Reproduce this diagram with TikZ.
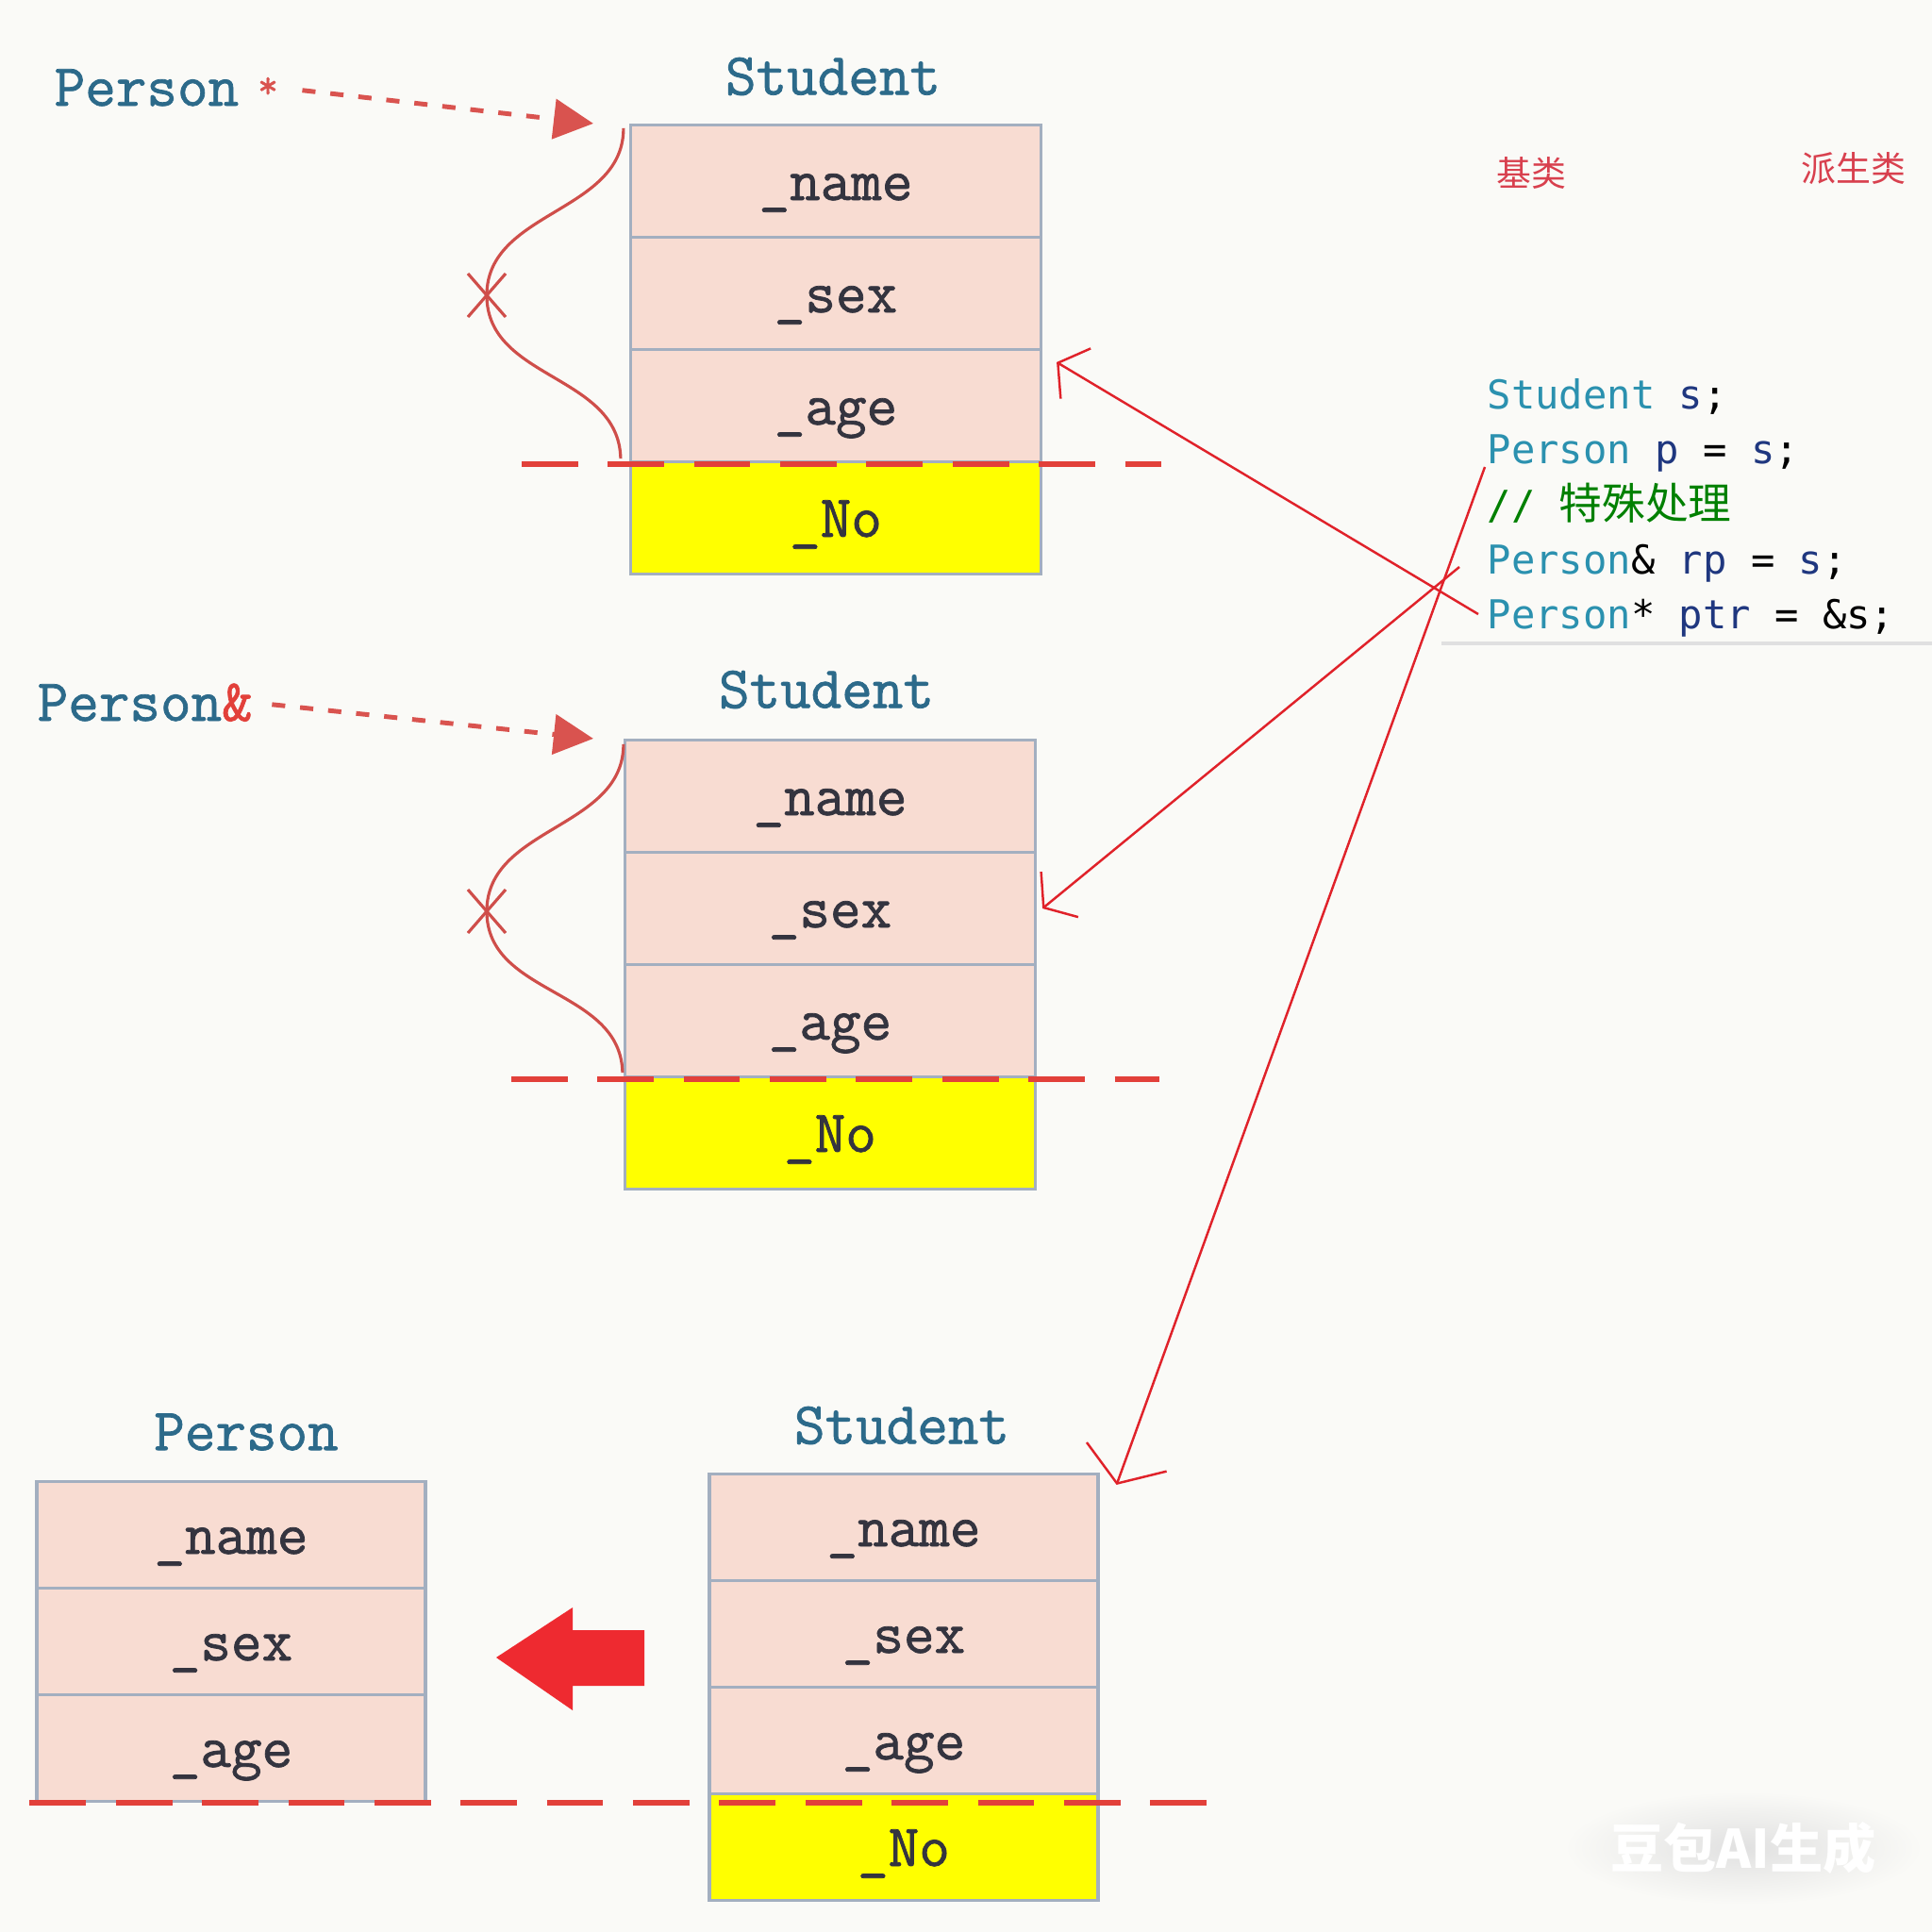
\documentclass[tikz,border=0pt]{standalone}
\usepackage{fontspec}
\usetikzlibrary{arrows.meta}
\newfontfamily\codefont{DejaVu Sans Mono}
\newfontfamily\cjkfont{Noto Sans CJK SC}
\newfontfamily\fieldfam{Latin Modern Mono}[FakeBold=1.2]
\newcommand\fieldfont{\fieldfam\fontsize{18}{20}\selectfont}
\newcommand\codesize{\fontsize{12}{14}\selectfont}
\definecolor{bgcol}{HTML}{FAFAF7}
\definecolor{cellfill}{HTML}{F8DCD2}
\definecolor{cellline}{HTML}{A3AFC0}
\definecolor{nofill}{HTML}{FFFF00}
\definecolor{cutred}{HTML}{E2403A}
\definecolor{curvered}{HTML}{CF4E4A}
\definecolor{ptrred}{HTML}{D9534F}
\definecolor{penred}{HTML}{E0222A}
\definecolor{bigred}{HTML}{EE2A30}
\definecolor{titleblue}{HTML}{2C6A8A}
\definecolor{fieldtxt}{HTML}{34343F}
\definecolor{typeteal}{HTML}{2B91AF}
\definecolor{varnavy}{HTML}{1F377F}
\definecolor{cmtgreen}{HTML}{008000}
\definecolor{labelred}{HTML}{D8404E}
\begin{document}
\begin{tikzpicture}[x=1cm,y=1cm,
 every node/.style={inner sep=0pt},
 cell/.style={draw=cellline,line width=0.9pt,fill=cellfill,minimum width=4.35cm,
  minimum height=1.19cm,text height=0.4cm,text depth=0pt,font=\fieldfont,text=fieldtxt},
 nocell/.style={cell,fill=nofill},
 lowcell/.style={cell,minimum width=4.12cm,minimum height=1.13cm},
 lownocell/.style={lowcell,fill=nofill},
 boxtitle/.style={font=\fieldfont,text=titleblue},
 code/.style={anchor=base west,font=\codefont\codesize,text=black},
 cutline/.style={draw=cutred,line width=1.5pt,dash pattern=on 17pt off 9pt},
 splitcurve/.style={draw=curvered,line width=0.9pt},
 ptrline/.style={draw=ptrred,line width=1.4pt,dash pattern=on 4pt off 4.5pt,
  -{Triangle[length=0.42cm,width=0.42cm]}},
 pen/.style={draw=penred,line width=0.7pt,
  -{Straight Barb[length=0.22cm,width=0.62cm,line width=0.7pt]}}]
 \useasboundingbox (0,0) rectangle (20.48,-20.48);
 \fill[bgcol] (0,0) rectangle (20.48,-20.48);
 % Person* -> Student
 \node[boxtitle] (t1) at (8.83,-0.81) {Student};
 \node[cell] (s1n) at (8.86,-1.92) {\_name};
 \node[cell] (s1s) at (8.86,-3.11) {\_sex};
 \node[cell] (s1a) at (8.86,-4.30) {\_age};
 \node[nocell] (s1o) at (8.86,-5.49) {\_No};
 \node[boxtitle,anchor=base west] (lp1) at (0.57,-1.12)
  {Person\hspace{0.2cm}\raisebox{0.08cm}{\color{ptrred}\fontsize{12}{12}\selectfont*}};
 \draw[ptrline,shorten <=0.25cm] (lp1.east) -- ([xshift=-0.38cm]s1n.north west);
 \coordinate (k1) at (5.16,-3.13);
 \draw[splitcurve] ([xshift=-0.06cm,yshift=-0.05cm]s1n.north west)
  .. controls +(0,-0.9) and +(0,0.9) .. (k1)
  .. controls +(0,-0.9) and +(-0.02,0.9) .. ([xshift=-0.09cm,yshift=0.05cm]s1a.south west);
 \draw[splitcurve] (k1) +(-0.2,-0.23) -- +(0.2,0.23) (k1) +(-0.2,0.23) -- +(0.2,-0.23);
 \draw[cutline] ([xshift=-1.14cm,yshift=-0.04cm]s1o.north west)
  -- ([xshift=1.26cm,yshift=-0.04cm]s1o.north east);
 % Person& -> Student
 \node[boxtitle] (t2) at (8.76,-7.31) {Student};
 \node[cell] (s2n) at (8.80,-8.44) {\_name};
 \node[cell] (s2s) at (8.80,-9.63) {\_sex};
 \node[cell] (s2a) at (8.80,-10.82) {\_age};
 \node[nocell] (s2o) at (8.80,-12.01) {\_No};
 \node[boxtitle,anchor=base west] (lp2) at (0.39,-7.64)
  {Person{\color{cutred}\&}};
 \draw[ptrline,shorten <=0.2cm] (lp2.east) -- ([xshift=-0.32cm]s2n.north west);
 \coordinate (k2) at (5.16,-9.66);
 \draw[splitcurve] ([yshift=-0.06cm]s2n.north west)
  .. controls +(0,-0.9) and +(0,0.9) .. (k2)
  .. controls +(0,-0.9) and +(-0.02,0.9) .. ([xshift=-0.01cm,yshift=0.06cm]s2a.south west);
 \draw[splitcurve] (k2) +(-0.2,-0.23) -- +(0.2,0.23) (k2) +(-0.2,0.23) -- +(0.2,-0.23);
 \draw[cutline] ([xshift=-1.19cm,yshift=-0.04cm]s2o.north west)
  -- ([xshift=1.30cm,yshift=-0.04cm]s2o.north east);
 % Person p = s
 \node[boxtitle] (t3) at (9.56,-15.11) {Student};
 \node[lowcell] (s3n) at (9.58,-16.19) {\_name};
 \node[lowcell] (s3s) at (9.58,-17.32) {\_sex};
 \node[lowcell] (s3a) at (9.58,-18.45) {\_age};
 \node[lownocell] (s3o) at (9.58,-19.58) {\_No};
 \node[boxtitle] (t4) at (2.61,-15.18) {Person};
 \node[lowcell] (pn) at (2.45,-16.27) {\_name};
 \node[lowcell] (ps) at (2.45,-17.40) {\_sex};
 \node[lowcell] (pa) at (2.45,-18.53) {\_age};
 \fill[bigred] (5.26,-17.57) -- (6.07,-17.04) -- (6.07,-17.28) -- (6.83,-17.28)
  -- (6.83,-17.87) -- (6.07,-17.87) -- (6.07,-18.13) -- cycle;
 \draw[cutline] ([xshift=-0.06cm]pa.south west) -- ([xshift=1.22cm]s3o.north east |- pa.south);
 % code
 \node[text=labelred,font=\cjkfont\fontsize{10.5}{12}\selectfont] (base) at (16.23,-1.83) {基类};
 \node[text=labelred,font=\cjkfont\fontsize{10.5}{12}\selectfont] (derived) at (19.65,-1.79) {派生类};
 \node[code] (c1) at (15.76,-4.33)
  {\color{typeteal}Student \color{varnavy}s\color{black};};
 \node[code] (c2) at (15.76,-4.91)
  {\color{typeteal}Person \color{varnavy}p \color{black}= \color{varnavy}s\color{black};};
 \node[code,text=cmtgreen] (c3) at (15.76,-5.50)
  {// {\cjkfont\fontsize{13}{14}\selectfont 特殊处理}};
 \node[code] (c4) at (15.76,-6.08)
  {\color{typeteal}Person\color{black}\& \color{varnavy}rp \color{black}= \color{varnavy}s\color{black};};
 \node[code] (c5) at (15.76,-6.66)
  {\color{typeteal}Person\color{black}* \color{varnavy}ptr \color{black}= \&s;};
 \draw[black!12,line width=1pt] (15.28,-6.82) -- (20.48,-6.82);
 \draw[pen] ([xshift=-0.09cm,yshift=0.15cm]c5.base west)
  -- ([xshift=0.15cm,yshift=-0.15cm]s1a.north east);
 \draw[pen] ([xshift=-0.29cm,yshift=0.07cm]c4.base west) -- ([xshift=0.06cm]s2s.east);
 \draw[pen,-{Straight Barb[length=0.3cm,width=0.9cm,line width=0.7pt]}]
  ([xshift=-0.02cm,yshift=0.55cm]c3.base west) -- ([xshift=0.18cm,yshift=-0.13cm]s3n.north east);
 % watermark
 \shade[inner color=black!12,outer color=bgcol] (18.48,-19.59) ellipse (1.9cm and 0.6cm);
 \node[text=white,font=\cjkfont\bfseries\fontsize{16}{18}\selectfont] (mark) at (18.48,-19.59) {豆包AI生成};
\end{tikzpicture}
\end{document}
